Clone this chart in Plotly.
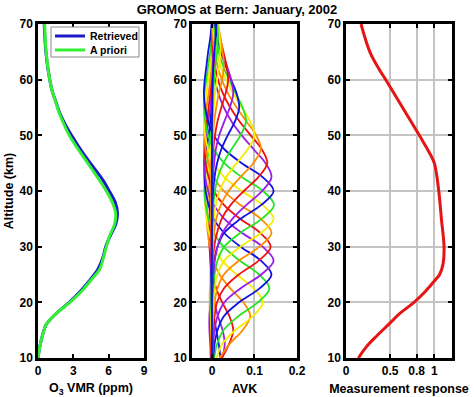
import plotly.graph_objects as go

# ---------------- data ----------------
alt_o3 = [10, 12, 14, 16, 18, 20, 22, 24, 26, 28, 30, 32, 34, 36, 38, 40,
          42, 44, 46, 48, 50, 52, 54, 56, 58, 60, 62, 64, 66, 68, 70]
o3_apriori = [0.0, 0.15, 0.37, 0.7, 1.55, 2.7, 3.7, 4.5, 5.25, 5.55, 5.8, 6.1,
              6.5, 6.6, 6.3, 5.8, 5.2, 4.55, 3.9, 3.25, 2.65, 2.2, 1.8, 1.5,
              1.2, 1.0, 0.85, 0.74, 0.65, 0.6, 0.57]
o3_retrieved = [0.0, 0.15, 0.37, 0.7, 1.55, 2.65, 3.6, 4.4, 5.1, 5.5, 5.75, 6.15,
                6.6, 6.75, 6.55, 6.05, 5.5, 4.8, 4.1, 3.45, 2.85, 2.3, 1.85, 1.52,
                1.2, 1.0, 0.84, 0.72, 0.63, 0.57, 0.53]

alt_mr = [10, 12, 14, 16, 18, 20, 22, 24, 25, 27, 30, 35, 40, 45, 47, 50, 55, 60, 62, 65, 70]
meas_response = [0.14, 0.23, 0.35, 0.48, 0.61, 0.77, 0.9, 1.01, 1.06, 1.1, 1.11, 1.08,
                 1.05, 1.0, 0.94, 0.83, 0.64, 0.45, 0.37, 0.27, 0.17]

alt_avk = [10, 12.5, 15, 17.5, 20, 22.5, 25, 27.5, 30, 32.5, 35, 37.5, 40,
           42.5, 45, 47.5, 50, 52.5, 55, 57.5, 60, 62.5, 65, 67.5, 70]
avk_rows = [
    [0.02, 0.016, 0.01, 0.004, 0.001, -0.001, -0.002, -0.003, -0.002, -0.002, -0.001, -0.001, 0, 0, 0, 0, 0, 0, 0, 0, 0, 0, 0, 0, 0],
    [0.024, 0.03, 0.025, 0.014, 0.006, 0.001, -0.002, -0.003, -0.004, -0.004, -0.003, -0.002, -0.001, 0, 0, 0, 0, 0, 0, 0, 0, 0, 0, 0, 0],
    [0.023, 0.04, 0.05, 0.041, 0.024, 0.01, 0.002, -0.003, -0.006, -0.007, -0.006, -0.005, -0.003, -0.002, -0.001, 0, 0, 0, 0, 0, 0, 0, 0, 0, 0],
    [0.018, 0.041, 0.072, 0.09, 0.074, 0.043, 0.018, 0.003, -0.005, -0.01, -0.012, -0.011, -0.008, -0.005, -0.003, -0.001, 0, 0, 0, 0, 0, 0, 0, 0, 0],
    [0.011, 0.024, 0.055, 0.096, 0.12, 0.098, 0.058, 0.024, 0.004, -0.007, -0.013, -0.016, -0.014, -0.011, -0.007, -0.004, -0.001, 0, 0, 0, 0, 0, 0, 0, 0],
    [0.005, 0.012, 0.027, 0.062, 0.108, 0.135, 0.111, 0.065, 0.027, 0.004, -0.008, -0.015, -0.018, -0.016, -0.012, -0.008, -0.004, -0.001, 0, 0, 0, 0, 0, 0, 0],
    [0.003, 0.006, 0.013, 0.028, 0.064, 0.112, 0.14, 0.115, 0.067, 0.028, 0.004, -0.008, -0.015, -0.018, -0.017, -0.013, -0.008, -0.004, -0.001, 0, 0, 0, 0, 0, 0],
    [0.001, 0.003, 0.006, 0.013, 0.029, 0.067, 0.116, 0.145, 0.119, 0.07, 0.029, 0.004, -0.009, -0.016, -0.019, -0.017, -0.013, -0.009, -0.004, -0.001, 0, 0, 0, 0, 0],
    [0.0, 0.001, 0.003, 0.006, 0.012, 0.028, 0.063, 0.11, 0.138, 0.113, 0.066, 0.028, 0.004, -0.008, -0.015, -0.018, -0.017, -0.012, -0.008, -0.004, -0.001, 0, 0, 0, 0],
    [0.0, 0.0, 0.001, 0.003, 0.006, 0.013, 0.028, 0.064, 0.112, 0.14, 0.115, 0.067, 0.028, 0.004, -0.008, -0.015, -0.018, -0.017, -0.013, -0.008, -0.004, -0.001, 0, 0, 0],
    [0.0, 0.0, 0.0, 0.001, 0.003, 0.006, 0.013, 0.029, 0.067, 0.116, 0.145, 0.119, 0.07, 0.029, 0.004, -0.009, -0.016, -0.019, -0.017, -0.013, -0.009, -0.004, -0.001, 0, 0],
    [0.0, 0.0, 0.0, 0.0, 0.001, 0.003, 0.006, 0.013, 0.029, 0.067, 0.117, 0.146, 0.12, 0.07, 0.029, 0.004, -0.009, -0.016, -0.019, -0.018, -0.013, -0.009, -0.004, -0.001, 0],
    [0.0, 0.0, 0.0, 0.0, 0.0, 0.001, 0.003, 0.006, 0.013, 0.029, 0.067, 0.116, 0.145, 0.119, 0.07, 0.029, 0.004, -0.009, -0.016, -0.019, -0.017, -0.013, -0.009, -0.004, -0.001],
    [-0.003, -0.004, -0.006, -0.006, -0.003, 0.001, 0.003, 0.006, 0.013, 0.025, 0.048, 0.081, 0.118, 0.14, 0.126, 0.098, 0.07, 0.046, 0.028, 0.015, 0.007, 0.003, 0.001, 0.001, 0.001],
    [-0.001, -0.003, -0.004, -0.005, -0.005, -0.003, 0.001, 0.003, 0.005, 0.012, 0.023, 0.044, 0.075, 0.109, 0.13, 0.117, 0.091, 0.065, 0.043, 0.026, 0.014, 0.007, 0.003, 0.001, 0.001],
    [0.0, -0.001, -0.002, -0.003, -0.005, -0.005, -0.002, 0.001, 0.002, 0.005, 0.01, 0.021, 0.039, 0.067, 0.097, 0.115, 0.104, 0.081, 0.058, 0.038, 0.023, 0.013, 0.006, 0.002, 0.001],
    [0.0, 0.0, -0.001, -0.002, -0.003, -0.004, -0.004, -0.002, 0.001, 0.002, 0.004, 0.009, 0.018, 0.034, 0.058, 0.084, 0.1, 0.09, 0.07, 0.05, 0.033, 0.02, 0.011, 0.005, 0.002],
    [0.0, 0.0, 0.0, -0.001, -0.002, -0.002, -0.003, -0.003, -0.002, 0.001, 0.002, 0.003, 0.007, 0.014, 0.027, 0.046, 0.067, 0.08, 0.072, 0.056, 0.04, 0.026, 0.016, 0.009, 0.004],
    [0.0, 0.0, 0.0, 0.0, -0.001, -0.001, -0.002, -0.003, -0.003, -0.001, 0.001, 0.001, 0.003, 0.006, 0.012, 0.022, 0.037, 0.054, 0.064, 0.058, 0.045, 0.032, 0.021, 0.013, 0.007],
    [0.0, 0.0, 0.0, 0.0, 0.0, -0.001, -0.001, -0.002, -0.002, -0.002, -0.001, 0.001, 0.001, 0.002, 0.005, 0.009, 0.017, 0.029, 0.042, 0.05, 0.045, 0.035, 0.025, 0.017, 0.01],
    [0.0, 0.0, 0.0, 0.0, 0.0, 0.0, 0.0, -0.001, -0.001, -0.002, -0.002, -0.001, 0.0, 0.001, 0.002, 0.003, 0.007, 0.013, 0.022, 0.032, 0.038, 0.034, 0.027, 0.019, 0.013],
    [0.0, 0.0, 0.0, 0.0, 0.0, 0.0, 0.0, 0.0, -0.001, -0.001, -0.001, -0.001, -0.001, 0.0, 0.001, 0.001, 0.003, 0.005, 0.01, 0.016, 0.024, 0.028, 0.025, 0.02, 0.014],
    [0.0, 0.0, 0.0, 0.0, 0.0, 0.0, 0.0, 0.0, 0.0, 0.0, -0.001, -0.001, -0.001, -0.001, 0.0, 0.0, 0.001, 0.002, 0.004, 0.007, 0.012, 0.017, 0.02, 0.018, 0.014],
    [0.0, 0.0, 0.0, 0.0, 0.0, 0.0, 0.0, 0.0, 0.0, 0.0, 0.0, 0.0, 0.0, 0.0, 0.0, 0.0, 0.0, 0.001, 0.001, 0.003, 0.005, 0.008, 0.012, 0.014, 0.013],
    [0.0, 0.0, 0.0, 0.0, 0.0, 0.0, 0.0, 0.0, 0.0, 0.0, 0.0, 0.0, 0.0, 0.0, 0.0, 0.0, 0.0, 0.0, 0.001, 0.001, 0.002, 0.003, 0.006, 0.008, 0.01],
]
avk_colors = ["#1010e0", "#9a1ee6", "#f01010", "#ff8c00", "#f2ee00", "#22e622"]

alt_ticks = [10, 20, 30, 40, 50, 60, 70]
o3_ticks = [0, 3, 6, 9]
avk_ticks = [0, 0.1, 0.2]
mr_ticks = [0, 0.5, 0.8, 1]

legend_names = ["Retrieved", "A priori"]
o3_colors = ["#1a1acd", "#33f033"]

# ---------------- figure ----------------
W, H = 474, 397
FONT = "Liberation Sans, Arial, Helvetica, sans-serif"

fig = go.Figure()

fig.add_trace(go.Scatter(x=o3_retrieved, y=alt_o3, mode="lines", name=legend_names[0],
                         showlegend=False,
                         line=dict(color=o3_colors[0], width=3, shape="spline"),
                         xaxis="x", yaxis="y"))
fig.add_trace(go.Scatter(x=o3_apriori, y=alt_o3, mode="lines", name=legend_names[1],
                         showlegend=False,
                         line=dict(color=o3_colors[1], width=3, shape="spline"),
                         xaxis="x", yaxis="y"))

for k, row in enumerate(avk_rows):
    fig.add_trace(go.Scatter(x=row, y=alt_avk, mode="lines", showlegend=False,
                             line=dict(color=avk_colors[k % len(avk_colors)], width=1.8,
                                       shape="spline"),
                             xaxis="x2", yaxis="y2"))

fig.add_trace(go.Scatter(x=meas_response, y=alt_mr, mode="lines", showlegend=False,
                         line=dict(color="#e61414", width=3, shape="spline"),
                         xaxis="x3", yaxis="y3"))


def px(a, b):
    return [a / W, b / W]


def pxx(a):
    return a / W


def pyy(b):
    return 1 - b / H


ydom = [1 - 358 / H, 1 - 24 / H]
tickfont = dict(family=FONT, size=12, color="black", weight="bold")
titlefont = dict(family=FONT, size=12.5, color="black", weight="bold")

common_ax = dict(showline=True, linecolor="black", linewidth=2.5, mirror="ticks",
                 ticks="inside", ticklen=4, tickwidth=2, tickcolor="black",
                 tickfont=tickfont, zeroline=False, automargin=False)

# compact legend box (panel 1, top right)
shapes = [dict(type="rect", xref="paper", yref="paper",
               x0=pxx(51), x1=pxx(139), y0=pyy(57), y1=pyy(27),
               line=dict(color="#8a8a8a", width=1), fillcolor="white", layer="above")]
annotations = []
for i, (nm, col) in enumerate(zip(legend_names, o3_colors)):
    yy = 36 + i * 14
    shapes.append(dict(type="line", xref="paper", yref="paper",
                       x0=pxx(55), x1=pxx(85), y0=pyy(yy), y1=pyy(yy),
                       line=dict(color=col, width=3), layer="above"))
    annotations.append(dict(text=nm, xref="paper", yref="paper", x=pxx(88), y=pyy(yy),
                            xanchor="left", yanchor="middle", showarrow=False,
                            font=dict(family=FONT, size=10.5, color="black",
                                      weight="bold")))

fig.update_layout(
    width=W, height=H,
    margin=dict(l=0, r=0, t=0, b=0, autoexpand=False),
    paper_bgcolor="white", plot_bgcolor="white",
    title=dict(text="GROMOS at Bern: January, 2002", x=0.5, xanchor="center",
               y=1 - 9 / H, yanchor="middle",
               font=dict(family=FONT, size=13, color="black", weight="bold")),
    showlegend=False,
    shapes=shapes,
    annotations=annotations,
    xaxis=dict(domain=px(38, 144), range=[0, 9], tickvals=o3_ticks, showgrid=False,
               title=dict(text="O<sub>3</sub> VMR (ppm)", font=titlefont, standoff=8),
               anchor="y", **common_ax),
    yaxis=dict(domain=ydom, range=[10, 70], tickvals=alt_ticks, showgrid=False,
               title=dict(text="Altitude (km)", font=titlefont, standoff=4),
               anchor="x", **common_ax),
    xaxis2=dict(domain=px(192, 297), range=[-0.047, 0.2], tickvals=avk_ticks,
                showgrid=True, gridcolor="#c4c4c4", gridwidth=1.5,
                title=dict(text="AVK", font=titlefont, standoff=8),
                anchor="y2", **common_ax),
    yaxis2=dict(domain=ydom, range=[10, 70], tickvals=alt_ticks,
                showgrid=True, gridcolor="#c4c4c4", gridwidth=1.5,
                anchor="x2", **common_ax),
    xaxis3=dict(domain=px(346, 452), range=[0, 1.2], tickvals=mr_ticks,
                showgrid=True, gridcolor="#c4c4c4", gridwidth=1.5,
                title=dict(text="Measurement response", font=titlefont, standoff=8),
                anchor="y3", **common_ax),
    yaxis3=dict(domain=ydom, range=[10, 70], tickvals=alt_ticks,
                showgrid=True, gridcolor="#c4c4c4", gridwidth=1.5,
                anchor="x3", **common_ax),
)

fig.write_html("out.html",
               config={"displayModeBar": False},
               post_script="document.body.style.margin='0px';"
                           "document.body.style.overflow='hidden';")
